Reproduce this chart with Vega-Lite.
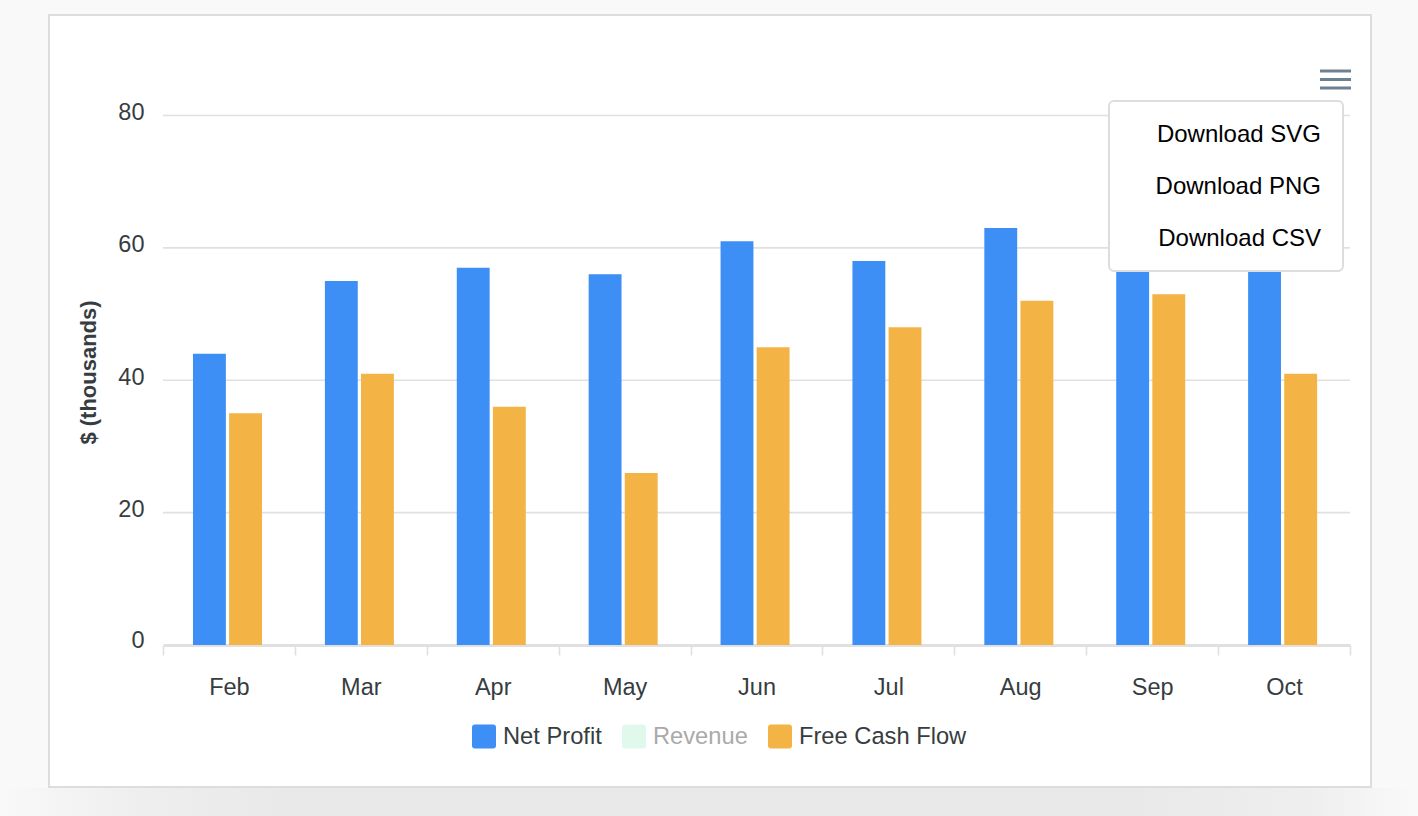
{
  "$schema": "https://vega.github.io/schema/vega-lite/v6.json",
  "description": "Grouped monthly bars inside a card with an open download menu.",
  "width": 1322,
  "height": 772,
  "autosize": "none",
  "padding": {"left": 49, "top": 15, "right": 47, "bottom": 29},
  "background": "#f9f9f9",
  "config": {
    "font": "Liberation Sans",
    "view": {"stroke": "#dddddd", "strokeWidth": 2, "fill": "#ffffff"}
  },
  "resolve": {"scale": {"x": "independent", "y": "independent"}},
  "layer": [
    {
      "data": {"values": [{"part": "shadow"}]},
      "mark": {
        "type": "rect",
        "color": {
          "gradient": "linear", "x1": 0, "y1": 0, "x2": 1, "y2": 0,
          "stops": [
            {"offset": 0, "color": "#f9f9f9"},
            {"offset": 0.035, "color": "#f5f5f5"},
            {"offset": 0.1, "color": "#eeeeee"},
            {"offset": 0.2, "color": "#e9e9e9"},
            {"offset": 0.8, "color": "#e9e9e9"},
            {"offset": 0.92, "color": "#eeeeee"},
            {"offset": 0.97, "color": "#f5f5f5"},
            {"offset": 1, "color": "#f9f9f9"}
          ]
        }
      },
      "encoding": {
        "x": {"datum": 0, "type": "quantitative", "scale": {"domain": [0, 1], "range": [-49, 1369]}, "axis": null},
        "x2": {"datum": 1},
        "y": {"datum": 0, "type": "quantitative", "scale": {"domain": [0, 1], "range": [773, 801]}, "axis": null},
        "y2": {"datum": 1}
      }
    },
    {
      "data": {"values": [{"tick": 20}, {"tick": 40}, {"tick": 60}, {"tick": 80}]},
      "mark": {"type": "rule", "color": "#e0e0e0", "strokeWidth": 1.6},
      "encoding": {
        "x": {"datum": 0, "type": "quantitative", "scale": {"domain": [0, 1], "range": [114, 1301]}, "axis": null},
        "x2": {"datum": 1},
        "y": {"field": "tick", "type": "quantitative", "scale": {"domain": [0, 80], "range": [630, 100.5]}, "axis": null}
      }
    },
    {
      "data": {
        "values": [
          {"month": "Feb", "series": "Net Profit", "value": 44},
          {"month": "Mar", "series": "Net Profit", "value": 55},
          {"month": "Apr", "series": "Net Profit", "value": 57},
          {"month": "May", "series": "Net Profit", "value": 56},
          {"month": "Jun", "series": "Net Profit", "value": 61},
          {"month": "Jul", "series": "Net Profit", "value": 58},
          {"month": "Aug", "series": "Net Profit", "value": 63},
          {"month": "Sep", "series": "Net Profit", "value": 60},
          {"month": "Oct", "series": "Net Profit", "value": 66},
          {"month": "Feb", "series": "Free Cash Flow", "value": 35},
          {"month": "Mar", "series": "Free Cash Flow", "value": 41},
          {"month": "Apr", "series": "Free Cash Flow", "value": 36},
          {"month": "May", "series": "Free Cash Flow", "value": 26},
          {"month": "Jun", "series": "Free Cash Flow", "value": 45},
          {"month": "Jul", "series": "Free Cash Flow", "value": 48},
          {"month": "Aug", "series": "Free Cash Flow", "value": 52},
          {"month": "Sep", "series": "Free Cash Flow", "value": 53},
          {"month": "Oct", "series": "Free Cash Flow", "value": 41}
        ]
      },
      "mark": "bar",
      "encoding": {
        "x": {
          "field": "month",
          "type": "nominal",
          "sort": null,
          "title": null,
          "scale": {"range": [114, 1301], "paddingInner": 0, "paddingOuter": 0},
          "axis": {
            "orient": "bottom",
            "offset": -142,
            "labelAngle": 0,
            "labelFontSize": 23.5,
            "labelColor": "#373d3f",
            "labelPadding": 20,
            "tickBand": "extent",
            "tickColor": "#e0e0e0",
            "tickWidth": 1.6,
            "tickSize": 10,
            "domainColor": "#e0e0e0",
            "domainWidth": 3,
            "grid": false
          }
        },
        "xOffset": {
          "field": "series",
          "type": "nominal",
          "scale": {"domain": ["Net Profit", "Free Cash Flow"], "range": [30, 99], "paddingInner": 0.09, "paddingOuter": 0}
        },
        "y": {
          "field": "value",
          "type": "quantitative",
          "title": "$ (thousands)",
          "scale": {"domain": [0, 80], "range": [630, 100.5]},
          "axis": {
            "orient": "left",
            "offset": -114,
            "values": [0, 20, 40, 60, 80],
            "grid": false,
            "domain": false,
            "ticks": false,
            "labelFontSize": 23.5,
            "labelColor": "#373d3f",
            "labelPadding": 19,
            "labelOffset": {"condition": {"test": "datum.value === 0", "value": -5}, "value": -3},
            "titleFontSize": 22,
            "titleFontWeight": "bold",
            "titleColor": "#373d3f",
            "titleX": -63,
            "titleY": 357
          }
        },
        "color": {
          "field": "series",
          "type": "nominal",
          "scale": {
            "domain": ["Net Profit", "Revenue", "Free Cash Flow"],
            "range": ["#3d8ff5", "#e1f8ec", "#f3b345"]
          },
          "legend": {
            "orient": "none",
            "legendX": 423,
            "legendY": 709.5,
            "direction": "horizontal",
            "columns": 3,
            "title": null,
            "gridAlign": "none",
            "columnPadding": 20,
            "labelFontSize": 23.7,
            "labelLimit": 300,
            "labelOffset": 7,
            "symbolSize": 576,
            "symbolStrokeWidth": 0,
            "symbolType": "M-0.75,-1H0.75Q1,-1 1,-0.75V0.75Q1,1 0.75,1H-0.75Q-1,1 -1,0.75V-0.75Q-1,-1 -0.75,-1Z",
            "encode": {
              "labels": {
                "update": {
                  "fill": {"signal": "datum.label === 'Revenue' ? '#aaaaaa' : '#373d3f'"}
                }
              }
            }
          }
        }
      }
    },
    {
      "data": {"values": [{"part": "menu"}]},
      "mark": {"type": "rect", "fill": "#ffffff", "stroke": "#dddddd", "strokeWidth": 2, "cornerRadius": 5},
      "encoding": {
        "x": {"datum": 0, "type": "quantitative", "scale": {"domain": [0, 1], "range": [1060, 1294]}, "axis": null},
        "x2": {"datum": 1},
        "y": {"datum": 0, "type": "quantitative", "scale": {"domain": [0, 1], "range": [86, 256]}, "axis": null},
        "y2": {"datum": 1}
      }
    },
    {
      "data": {"values": [{"label": "Download SVG"}, {"label": "Download PNG"}, {"label": "Download CSV"}]},
      "mark": {"type": "text", "align": "right", "baseline": "middle", "fontSize": 24, "color": "#000000"},
      "encoding": {
        "x": {"datum": 1, "type": "quantitative", "scale": {"domain": [0, 1], "range": [1060, 1272]}, "axis": null},
        "y": {
          "field": "label",
          "type": "nominal",
          "scale": {"type": "point", "domain": ["Download SVG", "Download PNG", "Download CSV"], "range": [120, 224], "padding": 0},
          "axis": null
        },
        "text": {"field": "label"}
      }
    },
    {
      "data": {"values": [{"bar": "top"}, {"bar": "middle"}, {"bar": "bottom"}]},
      "mark": {"type": "rule", "color": "#6e8192", "strokeWidth": 3},
      "encoding": {
        "x": {"datum": 0, "type": "quantitative", "scale": {"domain": [0, 1], "range": [1271, 1302]}, "axis": null},
        "x2": {"datum": 1},
        "y": {
          "field": "bar",
          "type": "nominal",
          "scale": {"type": "point", "domain": ["top", "middle", "bottom"], "range": [56, 73], "padding": 0},
          "axis": null
        }
      }
    }
  ]
}
